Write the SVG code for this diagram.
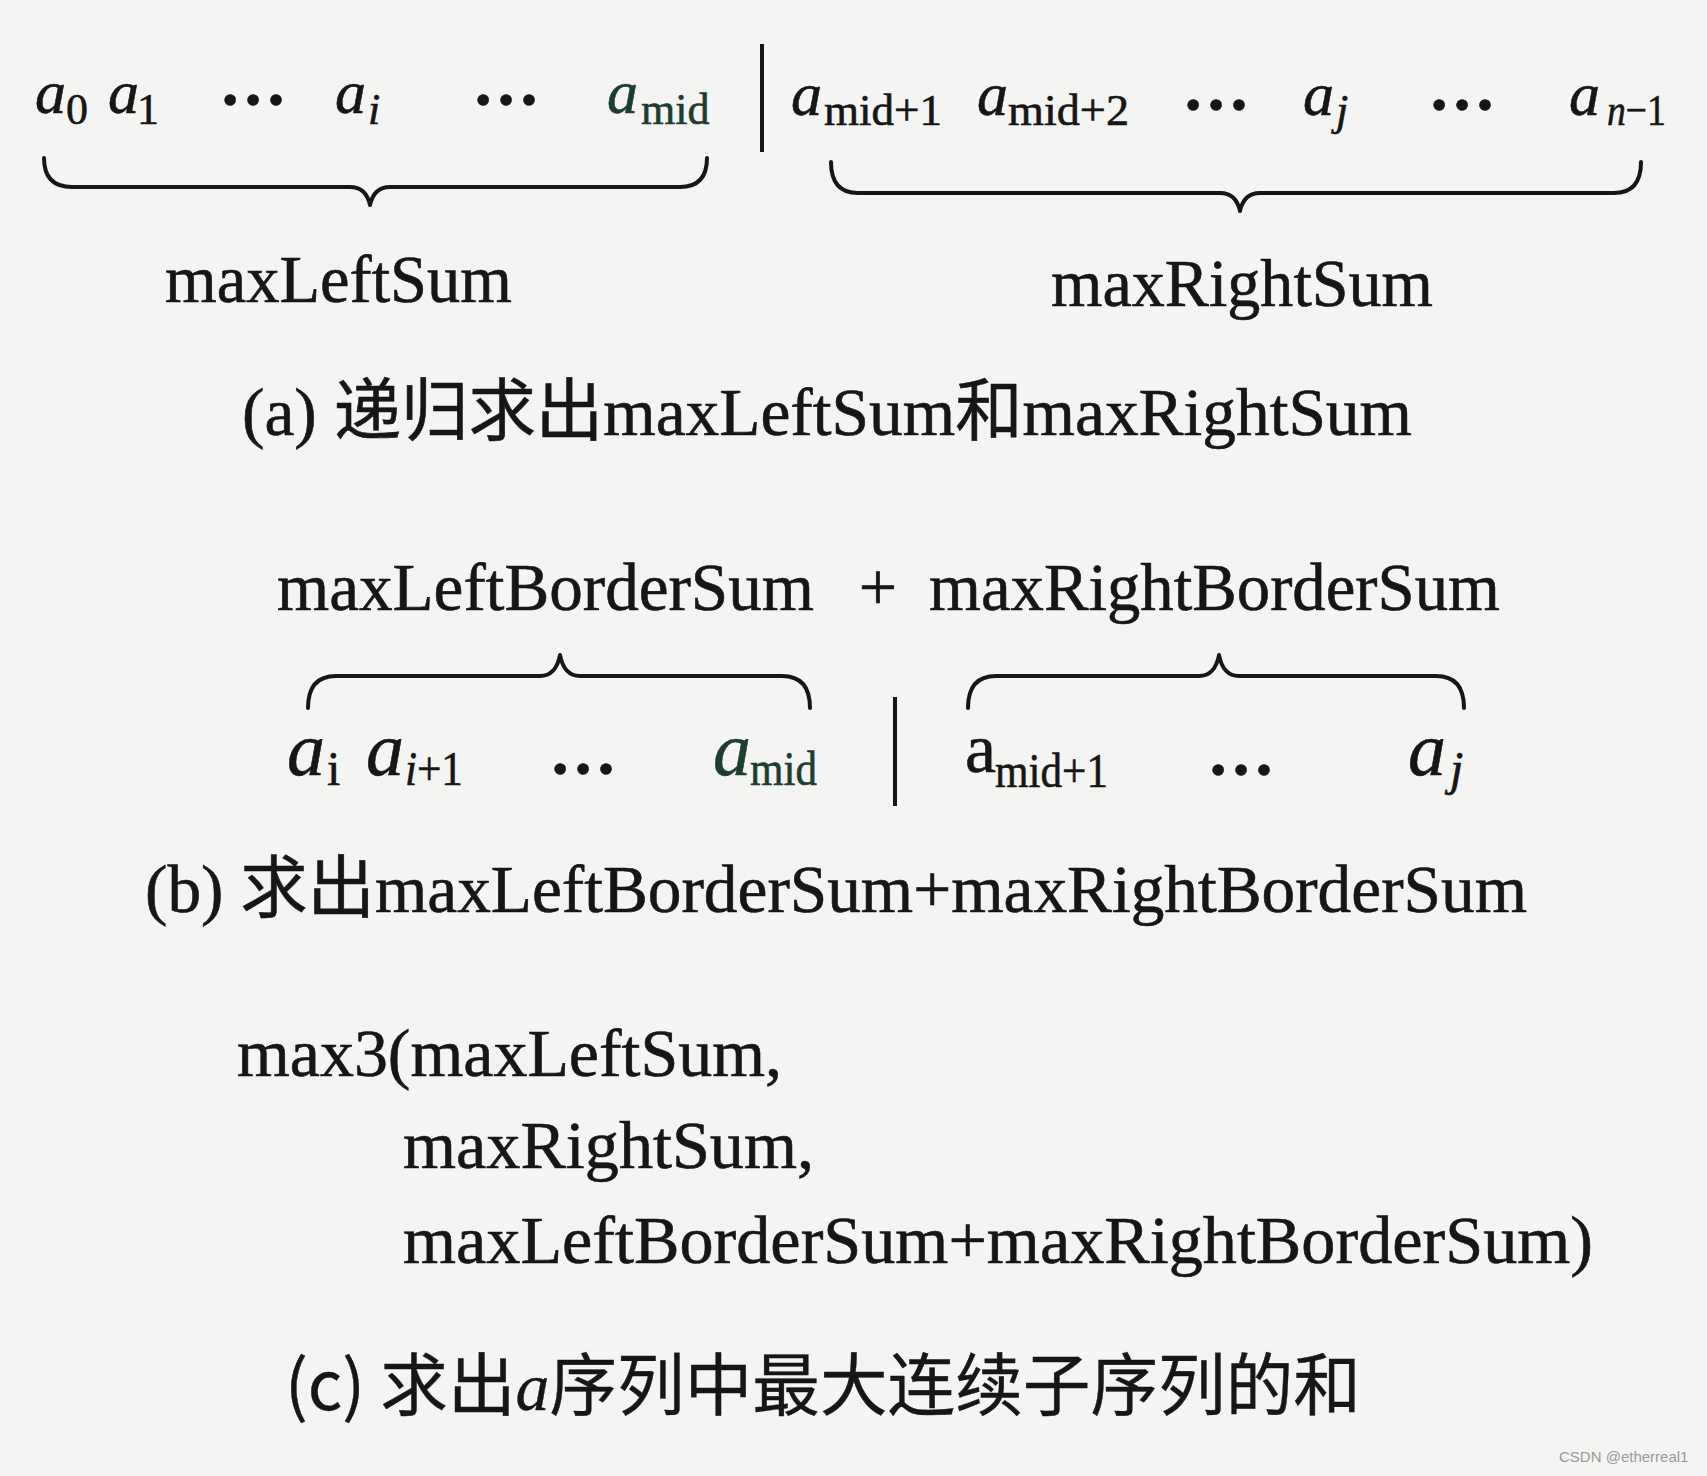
<svg xmlns="http://www.w3.org/2000/svg" width="1707" height="1476" viewBox="0 0 1707 1476">
<style>
.t{font-family:"Liberation Serif","Noto Sans CJK SC",serif;fill:#161616;stroke:#161616;stroke-width:0.6px}
.cjk{font-family:"Noto Sans CJK SC","Liberation Sans",sans-serif}
.it{font-style:italic}
.g{fill:#1c3d30;stroke:#1c3d30}
.a1{font-size:62px;font-style:italic}
.s1{font-size:44px}
.a2{font-size:76px;font-style:italic}
.s2{font-size:48px}
.dots{font-size:68px;font-weight:bold;text-anchor:middle}
.body{font-size:68px}
.brace{fill:none;stroke:#161616;stroke-width:4;stroke-linecap:round;stroke-linejoin:round}
.bar{stroke:#161616;stroke-width:4}
</style>
<rect width="1707" height="1476" fill="#f4f4f2"/>

<g id="row-a">
  <g id="a0"><text class="t a1" x="35" y="113">a</text><text class="t s1" x="66" y="124">0</text></g>
  <g id="a1"><text class="t a1" x="108" y="113">a</text><text class="t s1" x="137" y="124">1</text></g>
  <g id="dots-a1"><text class="t dots" x="253" y="105">…</text></g>
  <g id="ai"><text class="t a1" x="335" y="113">a</text><text class="t s1 it" x="368" y="124">i</text></g>
  <g id="dots-a2"><text class="t dots" x="506" y="105">…</text></g>
  <g id="amid"><text class="t a1 g" x="607" y="113">a</text><text class="t s1 g" x="641" y="124">mid</text></g>
  <g id="amid1"><text class="t a1" x="791" y="115">a</text><text class="t s1" x="824" y="125" textLength="118" lengthAdjust="spacingAndGlyphs">mid+1</text></g>
  <g id="amid2"><text class="t a1" x="977" y="115">a</text><text class="t s1" x="1008" y="125" textLength="121" lengthAdjust="spacingAndGlyphs">mid+2</text></g>
  <g id="dots-a3"><text class="t dots" x="1216" y="110">…</text></g>
  <g id="aj"><text class="t a1" x="1303" y="115">a</text><text class="t s1 it" x="1336" y="125">j</text></g>
  <g id="dots-a4"><text class="t dots" x="1462" y="110">…</text></g>
  <g id="an1"><text class="t a1" x="1569" y="115">a</text><text class="t s1" x="1607" y="125" textLength="59" lengthAdjust="spacingAndGlyphs"><tspan class="it">n</tspan>−1</text></g>
  <line class="bar" x1="762" y1="44" x2="762" y2="152"/>
</g>

<g id="connectors">
  <path class="brace" d="M44,158 Q44,187 72,187 L350,187 Q366,187 370,205 Q374,187 390,187 L680,187 Q707,187 707,158"/>
  <path class="brace" d="M831,162 Q831,193 858,193 L1220,193 Q1236,193 1240,211 Q1244,193 1260,193 L1614,193 Q1641,193 1641,162"/>
  <path class="brace" d="M308,708 Q308,676 336,676 L540,676 Q556,676 560,655 Q564,676 580,676 L782,676 Q810,676 810,708"/>
  <path class="brace" d="M968,708 Q968,676 996,676 L1199,676 Q1215,676 1219,655 Q1223,676 1239,676 L1436,676 Q1464,676 1464,708"/>
</g>

<g id="labels-a">
  <text class="t body" x="165" y="302" textLength="347" lengthAdjust="spacingAndGlyphs">maxLeftSum</text>
  <text class="t body" x="1051" y="306" textLength="382" lengthAdjust="spacingAndGlyphs">maxRightSum</text>
  <text class="t body" x="242" y="435" textLength="1170" lengthAdjust="spacingAndGlyphs">(a) <tspan class="cjk">递归求出</tspan>maxLeftSum<tspan class="cjk">和</tspan>maxRightSum</text>
</g>

<g id="labels-b">
  <text class="t body" x="277" y="610" textLength="537" lengthAdjust="spacingAndGlyphs">maxLeftBorderSum</text>
  <text class="t body" x="878" y="610" text-anchor="middle">+</text>
  <text class="t body" x="929" y="610" textLength="571" lengthAdjust="spacingAndGlyphs">maxRightBorderSum</text>
</g>

<g id="row-b">
  <g id="b-ai"><text class="t a2" x="287" y="775">a</text><text class="t s2" x="327" y="785">i</text></g>
  <g id="b-ai1"><text class="t a2" x="366" y="775">a</text><text class="t s2" x="405" y="785" textLength="58" lengthAdjust="spacingAndGlyphs"><tspan class="it">i</tspan>+1</text></g>
  <g id="b-dots1"><text class="t dots" x="583" y="774">…</text></g>
  <g id="b-amid"><text class="t a2 g" x="713" y="775">a</text><text class="t s2 g" x="750" y="785" textLength="67" lengthAdjust="spacingAndGlyphs">mid</text></g>
  <line class="bar" x1="895" y1="697" x2="895" y2="806"/>
  <g id="b-amid1"><text class="t" style="font-size:70px" x="965" y="772">a</text><text class="t s2" x="995" y="787" textLength="113" lengthAdjust="spacingAndGlyphs">mid+1</text></g>
  <g id="b-dots2"><text class="t dots" x="1241" y="775">…</text></g>
  <g id="b-aj"><text class="t a2" x="1408" y="775">a</text><text class="t s2 it" x="1450" y="785">j</text></g>
</g>

<g id="caption-b">
  <text class="t body" x="145" y="912" textLength="1382" lengthAdjust="spacingAndGlyphs">(b) <tspan class="cjk">求出</tspan>maxLeftBorderSum+maxRightBorderSum</text>
</g>

<g id="formula-c">
  <text class="t body" x="237" y="1076" textLength="545" lengthAdjust="spacingAndGlyphs">max3(maxLeftSum,</text>
  <text class="t body" x="403" y="1168" textLength="411" lengthAdjust="spacingAndGlyphs">maxRightSum,</text>
  <text class="t body" x="403" y="1263" textLength="1190" lengthAdjust="spacingAndGlyphs">maxLeftBorderSum+maxRightBorderSum)</text>
</g>

<g id="caption-c">
  <text class="t cjk" style="font-size:68px;stroke-width:0.4px" x="285" y="1410" textLength="1076" lengthAdjust="spacingAndGlyphs">(c) 求出<tspan style="font-family:'Liberation Serif',serif;font-style:italic">a</tspan>序列中最大连续子序列的和</text>
</g>

<g id="watermark">
  <text x="1559" y="1462" style="font-family:'Liberation Sans',sans-serif;font-size:15px;fill:#9a9a9a">CSDN @etherreal1</text>
</g>
</svg>
